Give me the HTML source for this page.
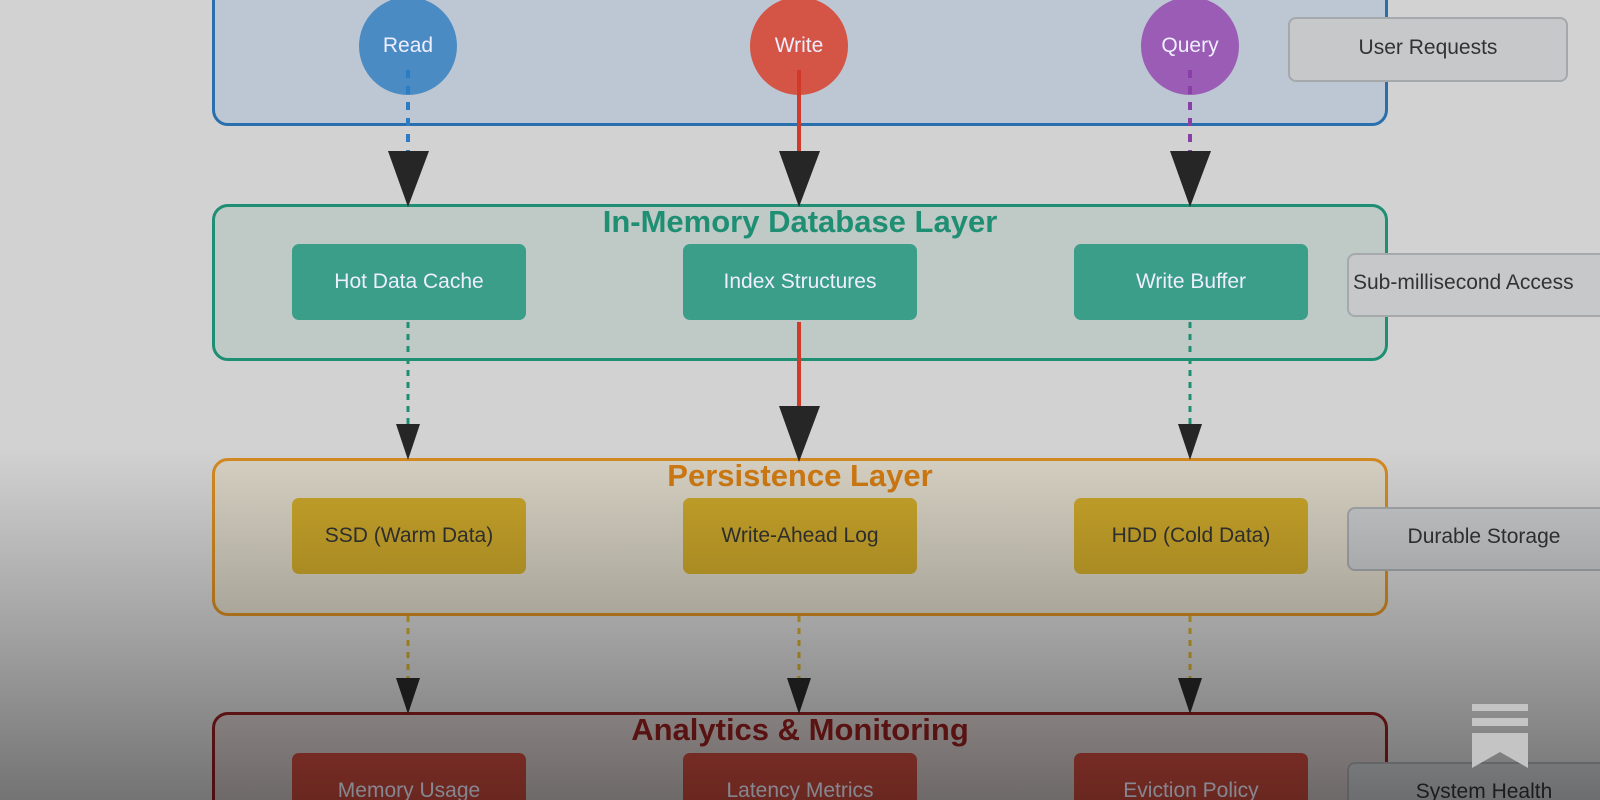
<!DOCTYPE html>
<html><head><meta charset="utf-8"><style>
html,body{margin:0;padding:0;width:1600px;height:800px;overflow:hidden;background:#d2d2d2;font-family:"Liberation Sans",sans-serif;}
#wrap{position:relative;width:1600px;height:800px;overflow:hidden;}
.abs{position:absolute;box-sizing:border-box;}
.layer{border-width:3px;border-style:solid;border-radius:16px;}
.title{position:absolute;left:0;width:100%;text-align:center;font-weight:bold;font-size:31px;}
.node{position:absolute;border-radius:7px;color:#eef;text-align:center;line-height:76px;font-size:21px;width:234px;height:76px;}
.side{position:absolute;background:#c6c8ca;border:2px solid #a5a9ab;border-radius:8px;color:#333;font-size:21px;text-align:center;}
.circ{position:absolute;width:98px;height:98px;border-radius:50%;color:#eef;font-size:21px;text-align:center;line-height:98px;}
</style></head><body><div id="wrap">
<div class="abs layer" style="left:212px;top:-40px;width:1176px;height:166px;background:#bcc7d3;border-color:#2a6fad;">
<div class="title" style="top:0px;color:#2a6fad;">Application Layer</div></div>
<div class="abs layer" style="left:212px;top:204px;width:1176px;height:157px;background:#bfcac7;border-color:#1e8f72;">
<div class="title" style="top:-3px;color:#1e8f72;">In-Memory Database Layer</div></div>
<div class="abs layer" style="left:212px;top:458px;width:1176px;height:158px;background:#d6d1c2;border-color:#d48a22;">
<div class="title" style="top:-3px;color:#d07a12;">Persistence Layer</div></div>
<div class="abs layer" style="left:212px;top:712px;width:1176px;height:160px;background:#c9c0bf;border-color:#8a1c1c;">
<div class="title" style="top:-3px;color:#8a1c1c;">Analytics &amp; Monitoring</div></div>

<div class="circ" style="left:359px;top:-3px;background:#4a8bc4;">Read</div>
<div class="circ" style="left:750px;top:-3px;background:#d45445;">Write</div>
<div class="circ" style="left:1141px;top:-3px;background:#9a5cb4;">Query</div>

<svg class="abs" style="left:0;top:0" width="1600" height="800">
<g stroke-width="4">
<line x1="408" y1="70" x2="408" y2="160" stroke="#2a7cc4" stroke-dasharray="8,8"/>
<line x1="799" y1="70" x2="799" y2="160" stroke="#d03a2a"/>
<line x1="1190" y1="70" x2="1190" y2="160" stroke="#8a3fa8" stroke-dasharray="8,8"/>
<line x1="408" y1="322" x2="408" y2="430" stroke="#1e8f72" stroke-width="3" stroke-dasharray="6,6"/>
<line x1="799" y1="322" x2="799" y2="415" stroke="#d03a2a"/>
<line x1="1190" y1="322" x2="1190" y2="430" stroke="#1e8f72" stroke-width="3" stroke-dasharray="6,6"/>
<line x1="408" y1="616" x2="408" y2="685" stroke="#c9a52a" stroke-width="3" stroke-dasharray="6,6"/>
<line x1="799" y1="616" x2="799" y2="685" stroke="#c9a52a" stroke-width="3" stroke-dasharray="6,6"/>
<line x1="1190" y1="616" x2="1190" y2="685" stroke="#c9a52a" stroke-width="3" stroke-dasharray="6,6"/>
</g>
<g fill="#262626">
<polygon points="388,151 429,151 408,207"/>
<polygon points="779,151 820,151 799,207"/>
<polygon points="1170,151 1211,151 1190,207"/>
<polygon points="396,424 420,424 408,460"/>
<polygon points="779,406 820,406 799,462"/>
<polygon points="1178,424 1202,424 1190,460"/>
<polygon points="396,678 420,678 408,714"/>
<polygon points="787,678 811,678 799,714"/>
<polygon points="1178,678 1202,678 1190,714"/>
</g>
</svg>

<div class="node" style="left:292px;top:244px;background:#3a9e89;">Hot Data Cache</div>
<div class="node" style="left:683px;top:244px;background:#3a9e89;">Index Structures</div>
<div class="node" style="left:1074px;top:244px;background:#3a9e89;">Write Buffer</div>
<div class="node" style="left:292px;top:498px;background:#c9a52a;color:#333;">SSD (Warm Data)</div>
<div class="node" style="left:683px;top:498px;background:#c9a52a;color:#333;">Write-Ahead Log</div>
<div class="node" style="left:1074px;top:498px;background:#c9a52a;color:#333;">HDD (Cold Data)</div>
<div class="node" style="left:292px;top:753px;background:#c0473a;">Memory Usage</div>
<div class="node" style="left:683px;top:753px;background:#c0473a;">Latency Metrics</div>
<div class="node" style="left:1074px;top:753px;background:#c0473a;">Eviction Policy</div>

<div class="side" style="left:1288px;top:17px;width:276px;height:61px;line-height:57px;">User Requests</div>
<div class="side" style="left:1347px;top:253px;width:290px;height:60px;line-height:56px;text-align:left;padding-left:4px;">Sub-millisecond Access</div>
<div class="side" style="left:1347px;top:507px;width:270px;height:60px;line-height:56px;">Durable Storage</div>
<div class="side" style="left:1347px;top:762px;width:270px;height:60px;line-height:56px;">System Health</div>

<div class="abs" style="left:0;top:0;width:1600px;height:800px;background:linear-gradient(to bottom,rgba(0,0,0,0) 0%,rgba(0,0,0,0) 56%,rgba(0,0,0,0.22) 78%,rgba(0,0,0,0.45) 100%);"></div>
<svg class="abs" style="left:1472px;top:704px" width="56" height="64">
<rect x="0" y="0" width="56" height="7" fill="#c4c4c4"/>
<rect x="0" y="14" width="56" height="8" fill="#c4c4c4"/>
<polygon points="0,29 56,29 56,64 28,48 0,64" fill="#c4c4c4"/>
</svg>
</div></body></html>
